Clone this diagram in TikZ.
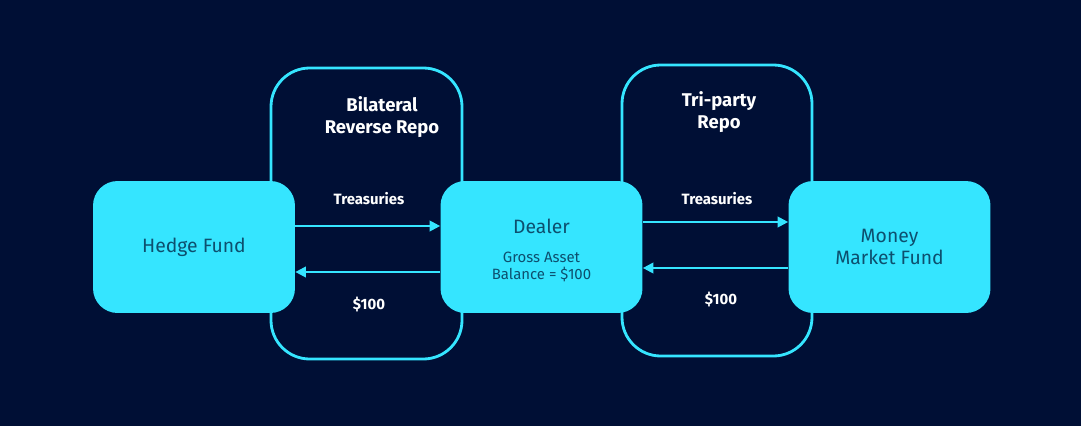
\documentclass[tikz,border=0pt]{standalone}
\usepackage{fontspec}
\setmainfont{Fira Sans}
\usetikzlibrary{arrows.meta}
\definecolor{bg}{HTML}{000F35}
\definecolor{cy}{HTML}{35E5FF}
\definecolor{tx}{HTML}{0D4F6E}
\begin{document}
\begin{tikzpicture}[x=0.02cm,y=-0.02cm,
  ent/.style={fill=cy,rounded corners=14pt,minimum width=4.04cm,minimum height=2.64cm,text=tx,align=center,font=\fontsize{11}{13}\selectfont},
  frame/.style={draw=cy,line width=1.6pt,rounded corners=22pt},
  lbl/.style={text=white,font=\bfseries\fontsize{8.5}{10}\selectfont},
  ttl/.style={text=white,align=center,font=\bfseries\fontsize{10.5}{12.5}\selectfont},
  arr/.style={draw=cy,line width=1.2pt,-{Triangle[length=6pt,width=6pt]}}]
\fill[bg] (0,0) rectangle (1081,426);
\draw[frame] (271,68) rectangle (462,359);
\draw[frame] (622,65) rectangle (812,356);
\node[ent] (hf) at (194,247) {Hedge Fund};
\node[ent] (dl) at (541.5,247) {};
\node[ent] (mm) at (889.5,247) {Money\\Market Fund};
\node[text=tx,font=\fontsize{11}{13}\selectfont] (dt) at (541.5,226) {Dealer};
\node[text=tx,align=center,font=\fontsize{8.5}{10}\selectfont] (gb) at (541.5,267) {Gross Asset\\Balance = \$100};
\node[ttl] (t1) at (382,117) {Bilateral\\Reverse Repo};
\node[ttl] (t2) at (719,112) {Tri-party\\Repo};
\node[lbl] (l1) at (369,199) {Treasuries};
\node[lbl] (l2) at (369,304) {\$100};
\node[lbl] (l3) at (717,199) {Treasuries};
\node[lbl] (l4) at (721,300) {\$100};
\draw[arr] (hf.east |- 0,226) -- (dl.west |- 0,226);
\draw[arr] (dl.west |- 0,272) -- (hf.east |- 0,272);
\draw[arr] (dl.east |- 0,222) -- (mm.west |- 0,222);
\draw[arr] (mm.west |- 0,268) -- (dl.east |- 0,268);
\end{tikzpicture}
\end{document}
